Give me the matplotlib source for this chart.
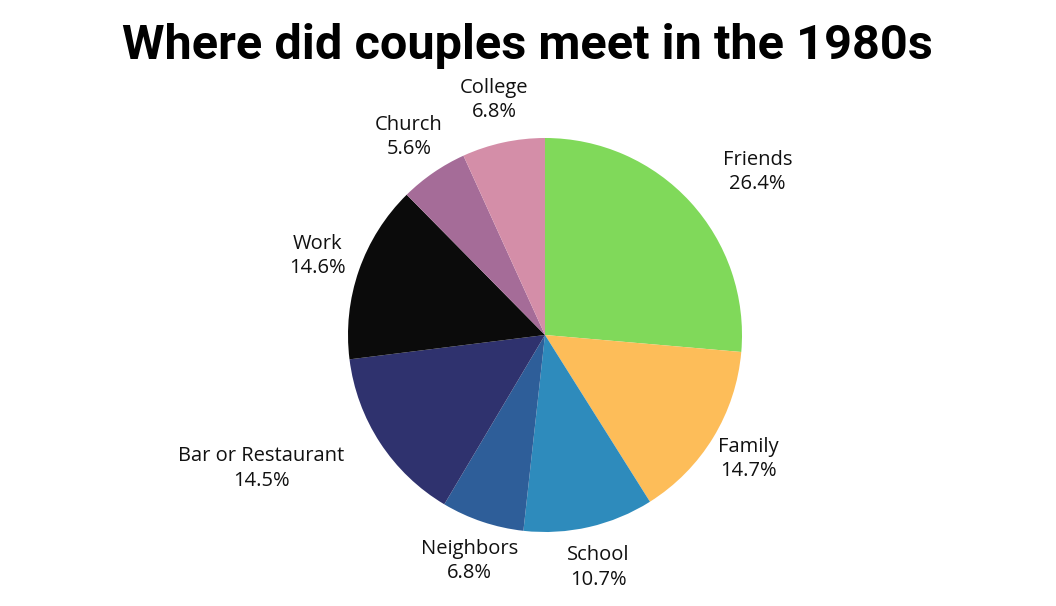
import numpy as np
import matplotlib
matplotlib.use("Agg")
import matplotlib.pyplot as plt

categories = ["Friends", "Family", "School", "Neighbors", "Bar or Restaurant", "Work", "Church", "College"]
values = [26.4, 14.7, 10.7, 6.8, 14.5, 14.6, 5.6, 6.8]
colors = ["#80D95A", "#FDBD59", "#2E8BBC", "#2E5E99", "#2F326E", "#0B0B0B", "#A56C98", "#D48EA8"]
title = "Where did couples meet in the 1980s"

# label placement (style): radial distance and angular nudge per label
label_dist = [1.36, 1.21, 1.21, 1.21, 1.59, 1.22, 1.22, 1.22]
label_shift = [-5, 0, 0, 0, -8, 0, 0, 0]

W, H = 1056, 606
fig = plt.figure(figsize=(W / 100, H / 100), dpi=100)
fig.patch.set_facecolor("white")

cx, cy, r = 545, 335, 197
ax = fig.add_axes([(cx - r) / W, (H - cy - r) / H, 2 * r / W, 2 * r / H])
wedges, _ = ax.pie(values, colors=colors, startangle=90, counterclock=False,
                   radius=1, wedgeprops=dict(linewidth=0))
ax.set_xlim(-1, 1)
ax.set_ylim(-1, 1)
ax.set_aspect("auto")
ax.axis("off")

for w, cat, val, d, s in zip(wedges, categories, values, label_dist, label_shift):
    ang = np.deg2rad((w.theta1 + w.theta2) / 2 + s)
    ax.text(d * np.cos(ang), d * np.sin(ang), f"{cat}\n{val:.1f}%",
            ha="center", va="center", fontsize=14.5, family="Open Sans",
            color="#111111", linespacing=1.3, clip_on=False)

fig.text(527 / W, 1 - 46 / H, title, ha="center", va="center",
         fontsize=35, fontweight="bold", family=["Roboto", "DejaVu Sans"])

fig.savefig("out.png", dpi=100, facecolor="white")
